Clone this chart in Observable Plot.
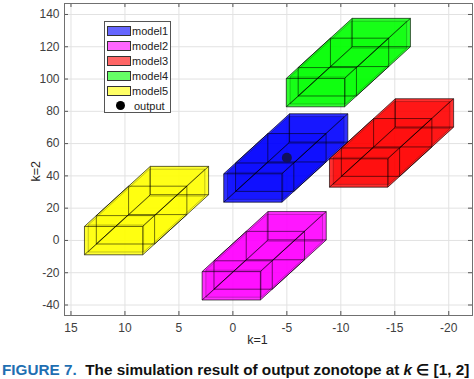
<!DOCTYPE html>
<html>
<head>
<meta charset="utf-8">
<script src="https://cdn.jsdelivr.net/npm/d3@7"></script>
<script src="https://cdn.jsdelivr.net/npm/@observablehq/plot@0.6"></script>
<style>
  html, body { margin: 0; padding: 0; background: #fff; }
  body { width: 474px; height: 379px; overflow: hidden; position: relative; font-family: "Liberation Sans", Arial, sans-serif; }
  #chart { position: absolute; left: 0; top: 0; }
  #legend { position: absolute; left: 104px; top: 21px; width: 67px; height: 92px; border: 1px solid #555; background: #fff; box-sizing: border-box; }
  #legend .patch { position: absolute; left: 2px; width: 24px; height: 10px; box-sizing: border-box; border: 1px solid #333; }
  #legend .lab { position: absolute; left: 27px; font-size: 11px; color: #222; line-height: 12px; }
  #legend .dot { position: absolute; width: 9px; height: 9px; border-radius: 50%; background: #000; }
  #caption { position: absolute; top: 362px; left: 2px; height: 17px; font-weight: bold; font-size: 15px; line-height: 16px; white-space: nowrap; }
  #caption .fig { color: #1f6fb2; }
  #caption .txt { color: #111; }
</style>
</head>
<body>
<div id="chart"></div>
<div id="legend"></div>
<div id="caption"><span class="fig">FIGURE 7.</span>&nbsp;&nbsp;<span class="txt">The simulation result of output zonotope at <i>k</i> ∈ [1, 2]</span></div>
<script>
// ---- data ----
const models = ["model1", "model2", "model3", "model4", "model5"];
const modelColors = ["#0000ff", "#ff00ff", "#ff0000", "#00ff00", "#ffff00"];
const centerX = [-4.9, -2.9, -14.7, -10.7, 8.0];
const centerY = [51.1, -9.5, 60.4, 110.2, 18.5];
// zonotope generators (half-lengths)
const gen1 = [2.7, 0];
const gen2 = [0, 8.8];
const gen3 = [-3.05, 18.6];
// nested boxes: scale of gen1/gen2, scale of gen3, shift along gen3
const boxScale12 = [1, 0.95, 1];
const boxScale3 = [1, 0.93, 0.49];
const boxShift3 = [0, 0, -0.15];
const outputX = [-5.0];
const outputY = [51.2];
const xTicks = [15, 10, 5, 0, -5, -10, -15, -20];
const yTicks = [-40, -20, 0, 20, 40, 60, 80, 100, 120, 140];
const xLabel = "k=1";
const yLabel = "k=2";

// ---- geometry helpers ----
function vertex(m, b, s1, s2, s3) {
  const k12 = boxScale12[b], k3 = boxScale3[b], sh = boxShift3[b];
  return {
    x: centerX[m] + sh * gen3[0] + s1 * k12 * gen1[0] + s2 * k12 * gen2[0] + s3 * k3 * gen3[0],
    y: centerY[m] + sh * gen3[1] + s1 * k12 * gen1[1] + s2 * k12 * gen2[1] + s3 * k3 * gen3[1]
  };
}
const hexSigns = [[1,-1,-1],[1,1,-1],[1,1,1],[-1,1,1],[-1,-1,1],[-1,-1,-1]];
function hexagon(m, b) { return hexSigns.map(s => vertex(m, b, ...s)); }
function edges(m, b) {
  const out = [];
  const S = [-1, 1];
  for (const a of S) for (const c of S) {
    const e1a = vertex(m, b, -1, a, c), e1b = vertex(m, b, 1, a, c);
    const e2a = vertex(m, b, a, -1, c), e2b = vertex(m, b, a, 1, c);
    const e3a = vertex(m, b, a, c, -1), e3b = vertex(m, b, a, c, 1);
    out.push({x1: e1a.x, y1: e1a.y, x2: e1b.x, y2: e1b.y});
    out.push({x1: e2a.x, y1: e2a.y, x2: e2b.x, y2: e2b.y});
    out.push({x1: e3a.x, y1: e3a.y, x2: e3b.x, y2: e3b.y});
  }
  return out;
}

const boxFillOpacity = [0.82, 0.5, 0.3];
const boxEdgeWidth = [0.9, 0.6, 1.0];
const boxEdgeOpacity = [0.7, 0.4, 0.55];

const shapeMarks = [];
models.forEach((name, m) => {
  for (let b = 0; b < boxScale12.length; b++) {
    shapeMarks.push(Plot.line(hexagon(m, b), {
      x: "x", y: "y", curve: "linear-closed",
      fill: modelColors[m], fillOpacity: boxFillOpacity[b], stroke: "none"
    }));
  }
  for (let b = 0; b < boxScale12.length; b++) {
    shapeMarks.push(Plot.link(edges(m, b), {
      x1: "x1", y1: "y1", x2: "x2", y2: "y2",
      stroke: "#000", strokeOpacity: boxEdgeOpacity[b], strokeWidth: boxEdgeWidth[b]
    }));
  }
});

const W = 474, H = 355;
const mL = 64, mR = 2, mT = 3, mB = 40;
const innerW = W - mL - mR, innerH = H - mT - mB;
const tickLen = 4;
const fmt = d => String(d);

const chart = Plot.plot({
  width: W, height: H,
  marginLeft: mL, marginRight: mR, marginTop: mT, marginBottom: mB,
  style: { fontFamily: "'Liberation Sans', Arial, sans-serif", fontSize: "12px", background: "#fff" },
  x: { domain: [15.6, -22.2], label: null },
  y: { domain: [-46.5, 146.8], label: null },
  marks: [
    Plot.gridX(xTicks, { stroke: "#e2e2e2", strokeOpacity: 1 }),
    Plot.gridY(yTicks, { stroke: "#e2e2e2", strokeOpacity: 1 }),
    ...shapeMarks,
    Plot.dot(outputX.map((x, i) => ({x, y: outputY[i]})), { x: "x", y: "y", r: 5, fill: "#10105c", stroke: "none" }),
    Plot.tickY(yTicks, { y: d => d, insetRight: innerW - tickLen, stroke: "#555" }),
    Plot.tickY(yTicks, { y: d => d, insetLeft: innerW - tickLen, stroke: "#555" }),
    Plot.tickX(xTicks, { x: d => d, insetTop: innerH - tickLen, stroke: "#555" }),
    Plot.tickX(xTicks, { x: d => d, insetBottom: innerH - tickLen, stroke: "#555" }),
    Plot.frame({ stroke: "#707070", strokeWidth: 1 }),
    Plot.axisY(yTicks, { anchor: "left", tickSize: 0, tickPadding: 5, label: null, fill: "#404040", fontSize: 12, tickFormat: fmt }),
    Plot.axisX(xTicks, { anchor: "bottom", tickSize: 0, tickPadding: 8, label: null, fill: "#404040", fontSize: 12, tickFormat: fmt }),
    Plot.text([xLabel], { frameAnchor: "bottom", text: d => d, dy: 28, dx: -11, fontSize: 12.5, fill: "#262626" }),
    Plot.text([yLabel], { frameAnchor: "left", text: d => d, rotate: -90, dx: -29, dy: 22, fontSize: 12.5, fill: "#262626" })
  ]
});
document.getElementById("chart").appendChild(chart);

// ---- legend ----
const legend = document.getElementById("legend");
const rgba = (hex, a) => { const c = d3.color(hex); return `rgba(${c.r},${c.g},${c.b},${a})`; };
models.forEach((name, i) => {
  const top = 4 + i * 15;
  const p = document.createElement("div");
  p.className = "patch"; p.style.top = top + "px"; p.style.background = rgba(modelColors[i], 0.6);
  legend.appendChild(p);
  const t = document.createElement("div");
  t.className = "lab"; t.style.top = (top - 1) + "px"; t.textContent = name;
  legend.appendChild(t);
});
const dot = document.createElement("div");
dot.className = "dot"; dot.style.left = "10.5px"; dot.style.top = "79px";
legend.appendChild(dot);
const ot = document.createElement("div");
ot.className = "lab"; ot.style.left = "29px"; ot.style.top = "78px"; ot.textContent = "output";
legend.appendChild(ot);

// fit the whole caption inside the page width (x 2 → 470)
const cap = document.getElementById("caption");
const w = cap.getBoundingClientRect().width;
if (w > 0) {
  const fs = Math.min(16, 15 * 468 / w);
  cap.style.fontSize = fs + "px";
}
</script>
</body>
</html>
